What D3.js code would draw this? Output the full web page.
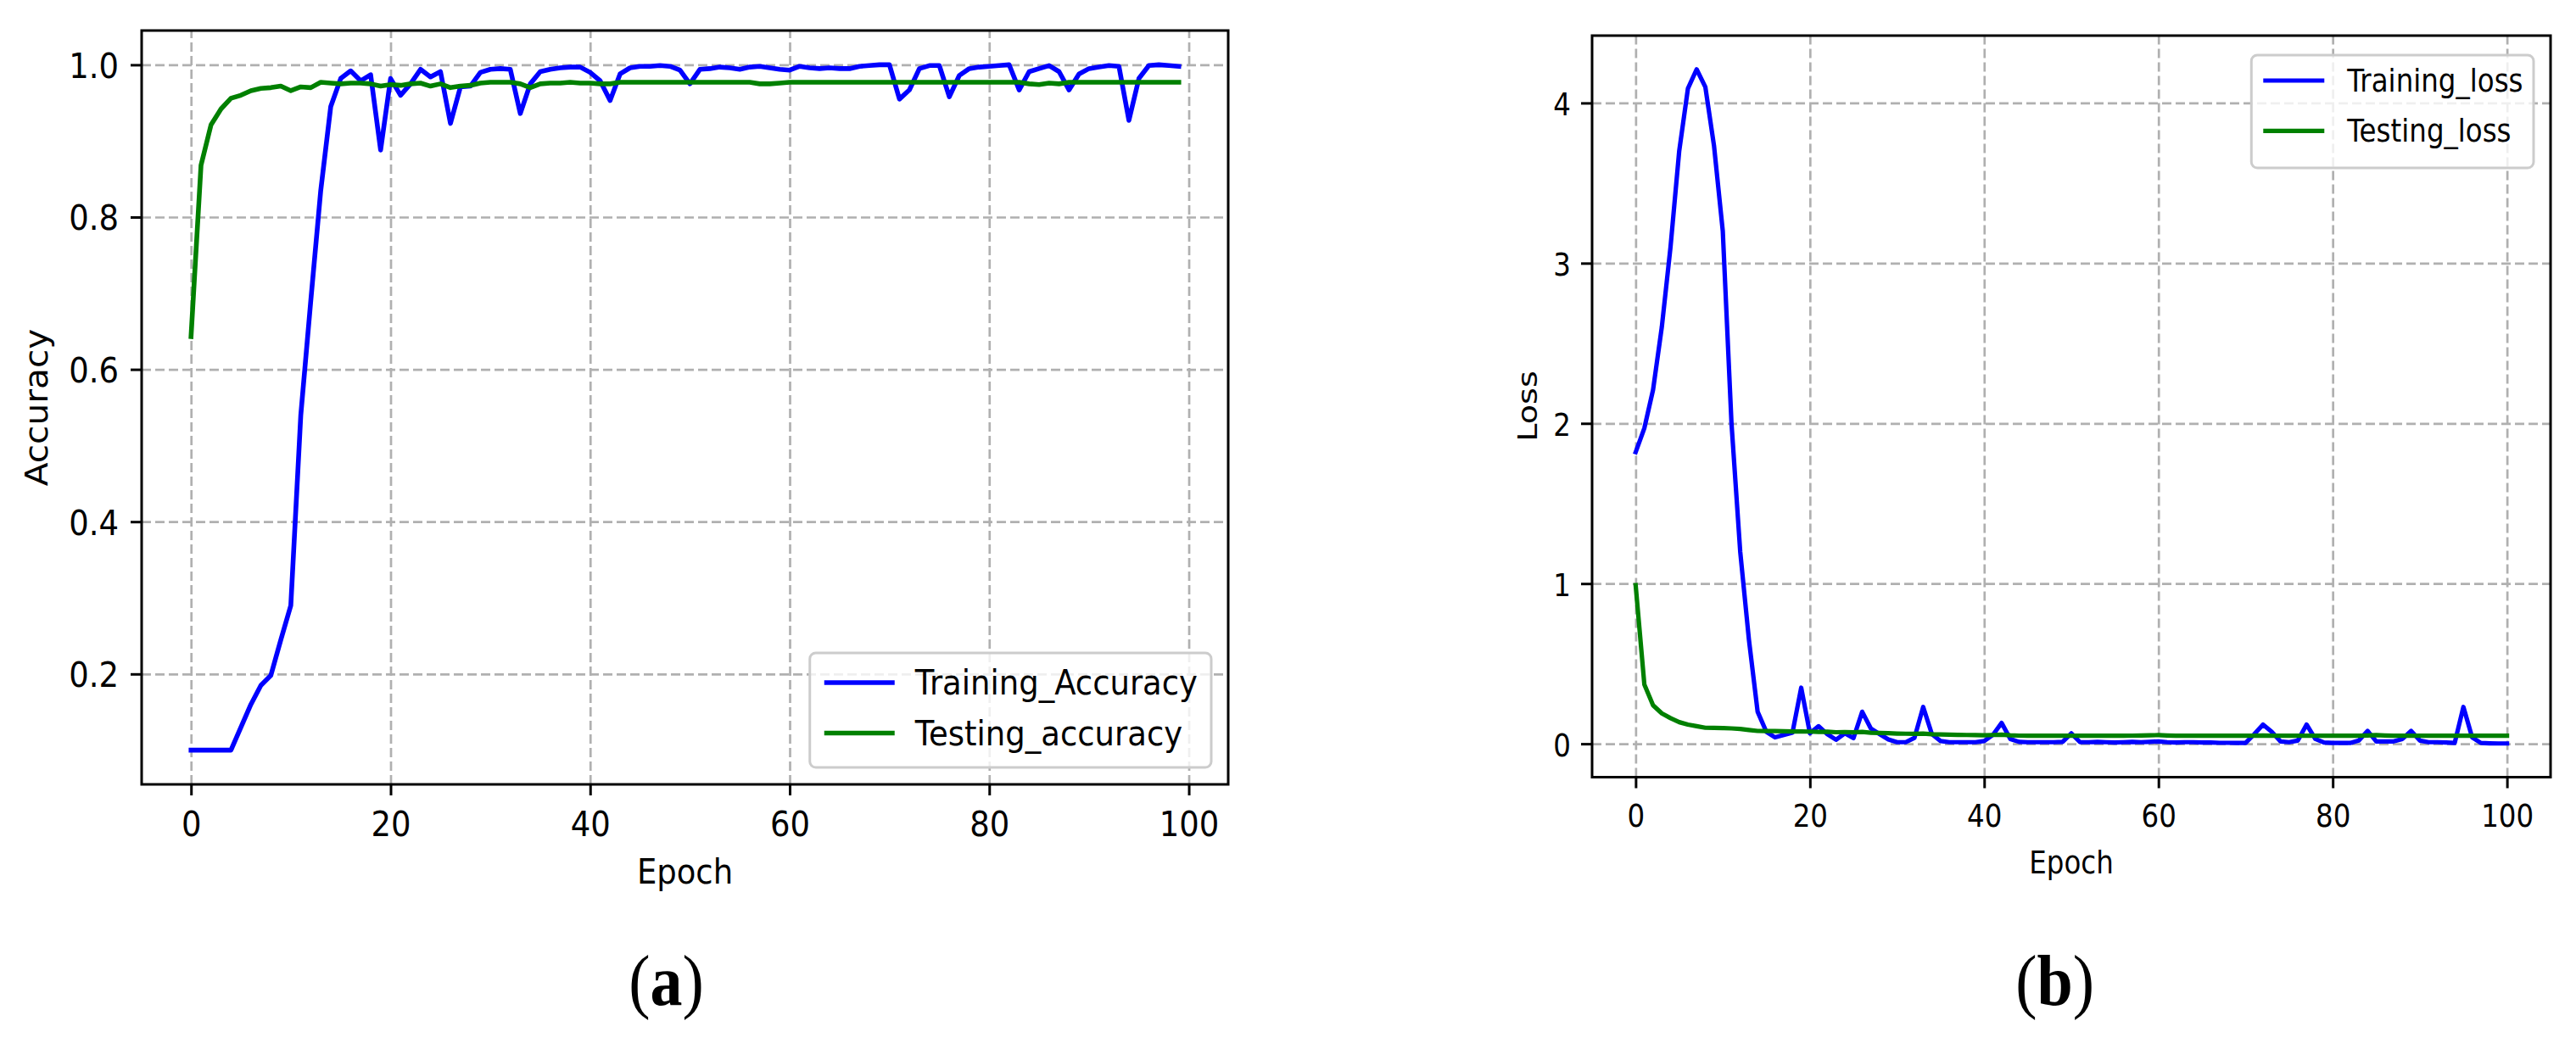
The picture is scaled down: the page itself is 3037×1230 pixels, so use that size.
<!DOCTYPE html>
<html>
<head>
<meta charset="utf-8">
<script src="https://cdn.jsdelivr.net/npm/d3@7"></script>
<style>
  html, body { margin: 0; padding: 0; background: #fff; }
  svg { display: block; }
  text { font-family: "DejaVu Sans", sans-serif; fill: #000; }
  .tag { font-family: "Liberation Serif", "Times New Roman", serif; }
</style>
</head>
<body>
<svg id="chart" width="3037" height="1230"></svg>
<script>
/* global d3 */

// ---- data (index = epoch) ----
const trainAcc = [
  0.100, 0.100, 0.100, 0.100, 0.100, 0.130, 0.160, 0.185, 0.198, 0.245,
  0.290, 0.540, 0.690, 0.835, 0.945, 0.982, 0.992, 0.979, 0.987, 0.888,
  0.982, 0.960, 0.975, 0.994, 0.984, 0.991, 0.923, 0.971, 0.972, 0.990,
  0.994, 0.995, 0.994, 0.936, 0.975, 0.991, 0.994, 0.996, 0.997, 0.997,
  0.990, 0.979, 0.953, 0.988, 0.996, 0.998, 0.998, 0.999, 0.998, 0.993,
  0.975, 0.994, 0.995, 0.997, 0.996, 0.994, 0.997, 0.998, 0.996, 0.994,
  0.993, 0.998, 0.996, 0.995, 0.996, 0.995, 0.995, 0.998, 0.999, 1.000,
  1.000, 0.955, 0.967, 0.995, 0.999, 0.999, 0.958, 0.986, 0.995, 0.997,
  0.998, 0.999, 1.000, 0.967, 0.991, 0.995, 0.999, 0.991, 0.967, 0.988,
  0.995, 0.997, 0.999, 0.998, 0.927, 0.982, 0.999, 1.000, 0.999, 0.998
];

const testAcc = [
  0.643, 0.868, 0.921, 0.942, 0.956, 0.960, 0.966, 0.969, 0.970, 0.972,
  0.966, 0.971, 0.970, 0.977, 0.976, 0.975, 0.976, 0.976, 0.975, 0.972,
  0.974, 0.973, 0.975, 0.976, 0.972, 0.975, 0.970, 0.972, 0.973, 0.976,
  0.977, 0.977, 0.977, 0.975, 0.970, 0.975, 0.976, 0.976, 0.977, 0.976,
  0.976, 0.975, 0.975, 0.977, 0.977, 0.977, 0.977, 0.977, 0.977, 0.977,
  0.977, 0.977, 0.977, 0.977, 0.977, 0.977, 0.977, 0.975, 0.975, 0.976,
  0.977, 0.977, 0.977, 0.977, 0.977, 0.977, 0.977, 0.977, 0.977, 0.977,
  0.977, 0.977, 0.977, 0.977, 0.977, 0.977, 0.977, 0.977, 0.977, 0.977,
  0.977, 0.977, 0.977, 0.977, 0.975, 0.974, 0.976, 0.975, 0.977, 0.977,
  0.977, 0.977, 0.977, 0.977, 0.977, 0.977, 0.977, 0.977, 0.977, 0.977
];

const trainLoss = [
  1.82, 1.97, 2.21, 2.60, 3.10, 3.70, 4.09, 4.21, 4.10, 3.73,
  3.20, 2.00, 1.20, 0.65, 0.20, 0.075, 0.04, 0.055, 0.07, 0.35,
  0.065, 0.11, 0.06, 0.025, 0.065, 0.035, 0.20, 0.095, 0.06, 0.027,
  0.010, 0.010, 0.037, 0.23, 0.06, 0.017, 0.010, 0.010, 0.010, 0.010,
  0.017, 0.055, 0.13, 0.030, 0.012, 0.010, 0.010, 0.010, 0.010, 0.012,
  0.065, 0.010, 0.010, 0.012, 0.010, 0.008, 0.010, 0.012, 0.010, 0.012,
  0.015, 0.010, 0.008, 0.010, 0.010, 0.008, 0.008, 0.006, 0.006, 0.005,
  0.005, 0.06, 0.12, 0.075, 0.015, 0.010, 0.020, 0.12, 0.030, 0.008,
  0.005, 0.005, 0.005, 0.020, 0.080, 0.015, 0.015, 0.015, 0.030, 0.080,
  0.020, 0.010, 0.010, 0.008, 0.005, 0.23, 0.040, 0.005, 0.003, 0.002,
  0.002
];

const testLoss = [
  0.99, 0.37, 0.24, 0.19, 0.16, 0.135, 0.12, 0.11, 0.10, 0.099,
  0.098, 0.096, 0.093, 0.086, 0.080, 0.079, 0.079, 0.078, 0.077, 0.077,
  0.076, 0.074, 0.075, 0.072, 0.073, 0.071, 0.074, 0.069, 0.067, 0.066,
  0.064, 0.063, 0.062, 0.064, 0.060, 0.058, 0.057, 0.056, 0.055, 0.054,
  0.053, 0.055, 0.057, 0.053, 0.051, 0.050, 0.050, 0.050, 0.050, 0.050,
  0.051, 0.050, 0.050, 0.050, 0.050, 0.050, 0.050, 0.051, 0.052, 0.053,
  0.054, 0.052, 0.050, 0.050, 0.051, 0.050, 0.050, 0.050, 0.050, 0.050,
  0.050, 0.050, 0.052, 0.050, 0.050, 0.050, 0.050, 0.051, 0.050, 0.050,
  0.050, 0.050, 0.050, 0.050, 0.052, 0.054, 0.052, 0.050, 0.050, 0.051,
  0.050, 0.050, 0.050, 0.050, 0.050, 0.050, 0.050, 0.050, 0.050, 0.050,
  0.050
];

const epochTicks = [0, 20, 40, 60, 80, 100];
const accTicks = [0.2, 0.4, 0.6, 0.8, 1.0];
const lossTicks = [0, 1, 2, 3, 4];

const accNames = ['Training_Accuracy', 'Testing_accuracy'];
const lossNames = ['Training_loss', 'Testing_loss'];

// ---- look ----
const BLUE = '#0000ff';
const GREEN = '#008000';
const GRID = '#b0b0b0';

const PANELS = [
  {
    tag: 'a',
    frame: {left: 167, right: 1448, top: 36, bottom: 925},
    series: [
      {name: accNames[0], values: trainAcc, color: BLUE},
      {name: accNames[1], values: testAcc, color: GREEN}
    ],
    yTicks: accTicks,
    yFormat: d3.format('.1f'),
    yLabel: 'Accuracy',
    font: 37, ky: 1.1, lineW: 5.6,
    xTickBase: 61, yTickOff: 27,
    xLabel: {x: 807.5, y: 1042},
    yLabelPos: {x: 55.5, y: 480.5},
    tagPos: {x: 785.5, y: 1185},
    legend: {corner: 'lower right', inset: 20, height: 135, firstRow: 35, rowGap: 59.5,
             pad: 17, handle: 83, gap: 24, padRight: 16, baseOff: 14}
  },
  {
    tag: 'b',
    frame: {left: 1877, right: 3007, top: 42, bottom: 916.5},
    series: [
      {name: lossNames[0], values: trainLoss, color: BLUE},
      {name: lossNames[1], values: testLoss, color: GREEN}
    ],
    yTicks: lossTicks,
    yFormat: d3.format('d'),
    yLabel: 'Loss',
    font: 32.5, ky: 1.17, lineW: 5.2,
    xTickBase: 58, yTickOff: 25,
    xLabel: {x: 2442, y: 1030},
    yLabelPos: {x: 1811.5, y: 479},
    tagPos: {x: 2422.6, y: 1185},
    legend: {corner: 'upper right', inset: 20, insetTop: 23, height: 133, firstRow: 30, rowGap: 59.3,
             pad: 14, handle: 72, gap: 27, padRight: 12.5, baseOff: 12.7}
  }
];

const svg = d3.select('#chart');
svg.append('rect').attr('width', 3037).attr('height', 1230).attr('fill', '#fff');

// matplotlib-style 5% margins around the data
function pad([a, b]) {
  const m = (b - a) * 0.05;
  return [a - m, b + m];
}

function drawPanel(p) {
  const fr = p.frame;
  const g = svg.append('g').attr('class', 'panel panel-' + p.tag);

  const n = d3.max(p.series, s => s.values.length) - 1;
  const x = d3.scaleLinear().domain(pad([0, n])).range([fr.left, fr.right]);
  const y = d3.scaleLinear()
    .domain(pad(d3.extent(p.series.flatMap(s => s.values))))
    .range([fr.bottom, fr.top]);

  //GRID
  const gridX = d3.axisBottom(x)
    .tickValues(epochTicks)
    .tickSize(-(fr.bottom - fr.top))
    .tickSizeOuter(0)
    .tickFormat('');
  const gridY = d3.axisLeft(y)
    .tickValues(p.yTicks)
    .tickSize(-(fr.right - fr.left))
    .tickSizeOuter(0)
    .tickFormat('');

  [g.append('g').attr('transform', `translate(0,${fr.bottom})`).call(gridX),
   g.append('g').attr('transform', `translate(${fr.left},0)`).call(gridY)]
    .forEach(gg => {
      gg.select('.domain').remove();
      gg.selectAll('line')
        .attr('stroke', GRID)
        .attr('stroke-width', 2.7)
        .attr('stroke-dasharray', '11,5');
    });

  //LINES
  const line = d3.line()
    .x((d, i) => x(i))
    .y(d => y(d));

  g.append('g').attr('class', 'series')
    .selectAll('path')
    .data(p.series)
    .join('path')
    .attr('d', d => line(d.values))
    .attr('fill', 'none')
    .attr('stroke', d => d.color)
    .attr('stroke-width', p.lineW)
    .attr('stroke-linejoin', 'round')
    .attr('stroke-linecap', 'square');

  //FRAME
  g.append('rect')
    .attr('x', fr.left).attr('y', fr.top)
    .attr('width', fr.right - fr.left).attr('height', fr.bottom - fr.top)
    .attr('fill', 'none').attr('stroke', '#000').attr('stroke-width', 3);

  //AXES
  const axisX = d3.axisBottom(x).tickValues(epochTicks).tickSize(13).tickSizeOuter(0);
  const axisY = d3.axisLeft(y).tickValues(p.yTicks).tickFormat(p.yFormat).tickSize(13).tickSizeOuter(0);

  const gx = g.append('g').attr('transform', `translate(0,${fr.bottom})`).call(axisX);
  const gy = g.append('g').attr('transform', `translate(${fr.left},0)`).call(axisY);

  [gx, gy].forEach(ga => {
    ga.attr('font-size', null).attr('font-family', null);
    ga.select('.domain').remove();
    ga.selectAll('.tick line').attr('stroke', '#000').attr('stroke-width', 3);
  });

  gx.selectAll('.tick text')
    .attr('y', null).attr('dy', null)
    .attr('font-size', p.font)
    .attr('text-anchor', 'middle')
    .attr('transform', `translate(0,${p.xTickBase}) scale(1,${p.ky})`);

  gy.selectAll('.tick text')
    .attr('x', null).attr('dy', '0.3645em')
    .attr('font-size', p.font)
    .attr('text-anchor', 'end')
    .attr('transform', `translate(${-p.yTickOff},0) scale(1,${p.ky})`);

  //AXIS LABELS
  g.append('text')
    .text('Epoch')
    .attr('font-size', p.font)
    .attr('text-anchor', 'middle')
    .attr('transform', `translate(${p.xLabel.x},${p.xLabel.y}) scale(1,${p.ky})`);

  g.append('text')
    .text(p.yLabel)
    .attr('font-size', p.font)
    .attr('text-anchor', 'middle')
    .attr('transform', `translate(${p.yLabelPos.x},${p.yLabelPos.y}) rotate(-90) scale(${p.ky},1)`);

  //LEGEND
  const L = p.legend;
  const lg = g.append('g').attr('class', 'legend');
  const box = lg.append('rect');
  const rows = lg.selectAll('g.row')
    .data(p.series)
    .join('g')
    .attr('class', 'row');

  rows.append('line')
    .attr('x1', L.pad).attr('x2', L.pad + L.handle)
    .attr('y1', 0).attr('y2', 0)
    .attr('stroke', d => d.color)
    .attr('stroke-width', p.lineW);

  const labels = rows.append('text')
    .text(d => d.name)
    .attr('font-size', p.font)
    .attr('transform', `translate(${L.pad + L.handle + L.gap},${L.baseOff}) scale(1,${p.ky})`);

  const textW = d3.max(labels.nodes(), nd => nd.getComputedTextLength());
  const w = L.pad + L.handle + L.gap + textW + L.padRight;
  const x0 = fr.right - L.inset - w;
  const y0 = L.corner === 'lower right'
    ? fr.bottom - L.inset - L.height
    : fr.top + L.insetTop;

  box.attr('x', x0).attr('y', y0)
    .attr('width', w).attr('height', L.height)
    .attr('rx', 7).attr('ry', 7)
    .attr('fill', '#fff').attr('fill-opacity', 0.8)
    .attr('stroke', '#cccccc').attr('stroke-width', 3);

  rows.attr('transform', (d, i) => `translate(${x0},${y0 + L.firstRow + i * L.rowGap})`);

  //PANEL TAG  (a) / (b)
  const tag = svg.append('text')
    .attr('class', 'tag')
    .attr('font-size', 76)
    .attr('text-anchor', 'middle')
    .attr('transform', `translate(${p.tagPos.x},${p.tagPos.y}) scale(1,1.12)`);
  tag.append('tspan').text('(');
  tag.append('tspan').attr('font-weight', 'bold').text(p.tag);
  tag.append('tspan').text(')');
}

PANELS.forEach(drawPanel);
</script>
</body>
</html>
